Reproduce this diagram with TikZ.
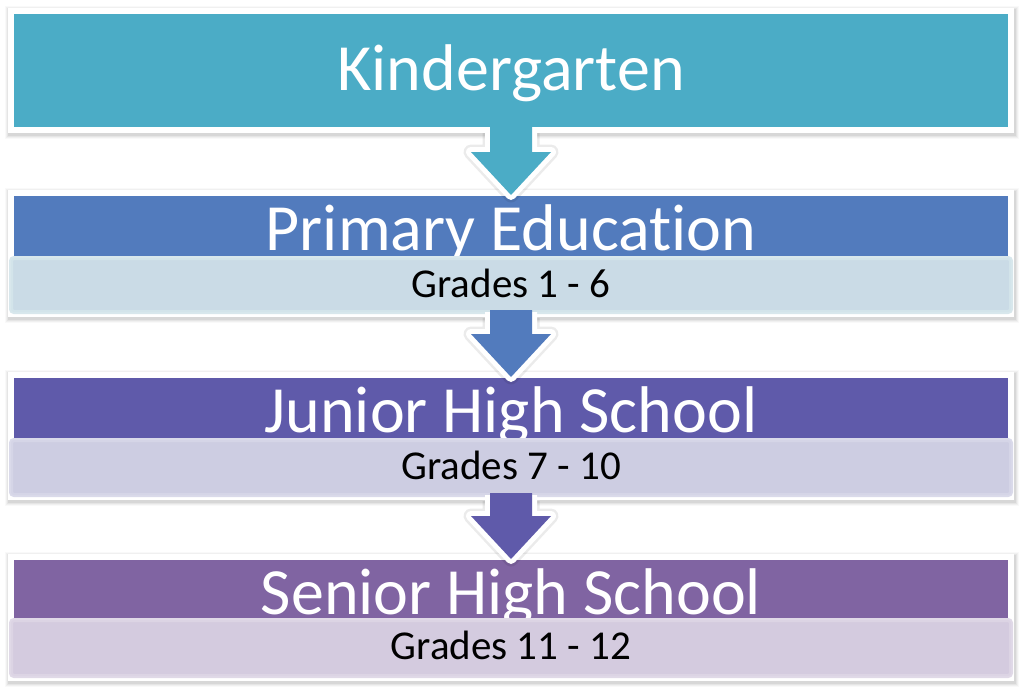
\documentclass[tikz,border=0pt]{standalone}
\usepackage{fontspec}
\setmainfont{Carlito}[Ligatures={NoCommon,NoRequired,NoContextual}]
\usetikzlibrary{calc}
\definecolor{cteal}{HTML}{4BACC6}
\definecolor{cblue}{HTML}{527BBD}
\definecolor{cindigo}{HTML}{5F5AAA}
\definecolor{cpurple}{HTML}{8064A2}
\definecolor{lteal}{HTML}{C5D8E4}
\definecolor{bteal}{HTML}{D4E5EB}
\definecolor{lindigo}{HTML}{C8C8DF}
\definecolor{bindigo}{HTML}{D6D6E8}
\definecolor{lpurple}{HTML}{D0C6DC}
\definecolor{bpurple}{HTML}{DDD5E5}
\newcommand\boxshadow[4]{%
  \foreach \d/\o in {4/0.025,3/0.035,2/0.045,1/0.06}{%
    \fill[black,opacity=\o] (#1-\d+1,#2-\d+2) rectangle (#3+\d+1,#4+\d+2);}}
\newcommand\flowarrow[3]{%
  \draw[black,opacity=0.08,line width=15pt,line join=round,xshift=1pt,yshift=-2pt]
    let \p1=(#1.south), \p2=(#2.north) in
    (\x2-21pt,\y1-6pt) -- (\x2-21pt,\y2+44pt) -- (\x2-40pt,\y2+44pt) -- (\x2,\y2+1pt)
    -- (\x2+40pt,\y2+44pt) -- (\x2+21pt,\y2+44pt) -- (\x2+21pt,\y1-6pt);
  \draw[white,line width=10pt,line join=round]
    let \p1=(#1.south), \p2=(#2.north) in
    (\x2-21pt,\y1) -- (\x2-21pt,\y2+44pt) -- (\x2-40pt,\y2+44pt) -- (\x2,\y2+1pt)
    -- (\x2+40pt,\y2+44pt) -- (\x2+21pt,\y2+44pt) -- (\x2+21pt,\y1);
  \fill[#3]
    let \p1=(#1.south), \p2=(#2.north) in
    (\x2-21pt,\y1+2pt) -- (\x2-21pt,\y2+44pt) -- (\x2-40pt,\y2+44pt) -- (\x2,\y2+1pt)
    -- (\x2+40pt,\y2+44pt) -- (\x2+21pt,\y2+44pt) -- (\x2+21pt,\y1+2pt) -- cycle;}
\tikzset{
  hdrbox/.style={inner sep=0pt,outer sep=0pt,minimum width=994pt,draw=none},
  litebox/.style={inner sep=0pt,outer sep=0pt,minimum width=1000pt,rounded corners=3pt,line width=4pt,fill opacity=0.9,draw opacity=0.9},
  ttl/.style={anchor=base,inner sep=0pt,text=white,font=\fontsize{66}{66}\selectfont},
  sub/.style={anchor=base,inner sep=0pt,text=black,font=\fontsize{41}{41}\selectfont}
}
\begin{document}
\begin{tikzpicture}[x=1pt,y=-1pt]
\useasboundingbox (0,0) rectangle (1022,691);
\fill[white] (0,0) rectangle (1022,691);
% Kindergarten
\boxshadow{8}{8}{1014}{133}
\fill[white] (8,8) rectangle (1014,133);
\node[hdrbox,fill=cteal,minimum height=113pt] (kg) at (511,70.5) {};
\node[ttl] (kgt) at (511,90) {Kindergarten};
% Primary
\boxshadow{8}{190}{1014}{317}
\fill[white] (8,190) rectangle (1014,317);
\node[hdrbox,fill=cblue,minimum height=60pt] (ph) at (511,226) {};
\node[ttl] (pht) at (511,250) {Primary Education};
\node[litebox,fill=lteal,draw=bteal,minimum height=54pt] (pl) at (511,285) {};
\node[sub] (plt) at (511,297) {Grades 1 - 6};
% Junior
\boxshadow{8}{372}{1014}{500}
\fill[white] (8,372) rectangle (1014,500);
\node[hdrbox,fill=cindigo,minimum height=60pt] (jh) at (511,408) {};
\node[ttl] (jht) at (511,432) {Junior High School};
\node[litebox,fill=lindigo,draw=bindigo,minimum height=55pt] (jl) at (511,467.5) {};
\node[sub] (jlt) at (511,479) {Grades 7 - 10};
% Senior
\boxshadow{8}{554}{1014}{681}
\fill[white] (8,554) rectangle (1014,681);
\node[hdrbox,fill=cpurple,minimum height=58pt] (sh) at (511,589) {};
\node[ttl] (sht) at (511,614) {Senior High School};
\node[litebox,fill=lpurple,draw=bpurple,minimum height=56pt] (sl) at (511,648) {};
\node[sub] (slt) at (511,659) {Grades 11 - 12};
% arrows
\flowarrow{kg}{ph}{cteal}
\flowarrow{pl}{jh}{cblue}
\flowarrow{jl}{sh}{cindigo}
\end{tikzpicture}
\end{document}
